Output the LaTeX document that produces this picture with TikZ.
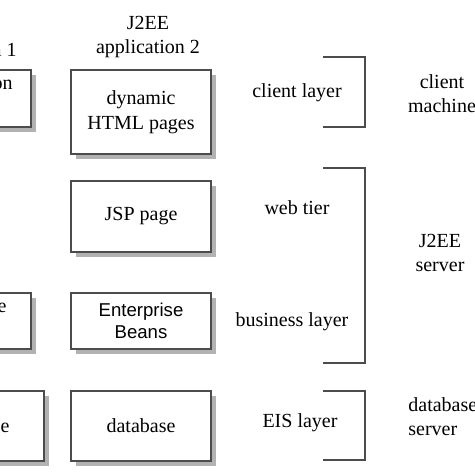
\documentclass[tikz,border=0pt]{standalone}
\usepackage{fontspec}
\setmainfont{Liberation Serif}
\newfontfamily\beanfont{Liberation Sans}
\usetikzlibrary{shadows}
\tikzset{
    tierbox/.style={draw=black!70, line width=0.8pt, fill=white, minimum width=70pt, align=center,
        font=\fontsize{10}{12.5}\selectfont,
        drop shadow={shadow xshift=2.5pt, shadow yshift=-2.5pt, fill=black!30, opacity=1}},
    tiertext/.style={align=center, inner sep=0pt, font=\fontsize{10}{12}\selectfont},
    bracketline/.style={draw=black!70, line width=1pt}
}

\begin{document}
\begin{tikzpicture}[x=0.5pt, y=-0.5pt]

            \useasboundingbox (0,0) rectangle (474,474);
            \clip (0,0) rectangle (474,474);

            % application 1 (cut off on the left)
            \node[tierbox, minimum width=63pt, minimum height=28.5pt] (A1) at (-32,98.5) {};
            \node[tierbox, minimum width=63pt, minimum height=28pt] (A3) at (-32,321) {};
            \node[tierbox, minimum width=70pt, minimum height=35pt] (A4) at (-26,426) {};
            \node[tiertext, anchor=east] (T1) at (17,50) {n 1};
            \node[tiertext, anchor=east] (A1t) at (13,85) {on};
            \node[tiertext, anchor=east] (A3t) at (7,308) {e};
            \node[tiertext, anchor=east] (A4t) at (10,428) {e};

            % application 2
            \node[tiertext] (T2) at (148,37) {J2EE\\application 2};
            \node[tierbox, minimum height=42pt] (B1) at (141,112) {dynamic\\HTML pages};
            \node[tierbox, minimum height=35.5pt] (B2) at (141,216.5) {JSP page};
            \node[tierbox, minimum height=28pt, font=\beanfont\fontsize{9.3}{11}\selectfont] (B3) at (141,321) {Enterprise\\Beans};
            \node[tierbox, minimum height=35pt] (B4) at (141,426) {database};

            % layers
            \node[tiertext] (L1) at (297,93) {client layer};
            \node[tiertext] (L2) at (297,208) {web tier};
            \node[tiertext] (L3) at (292,322) {business layer};
            \node[tiertext] (L4) at (300,423) {EIS layer};

            \coordinate (c1) at (323,57);  \coordinate (c2) at (365,57);
            \coordinate (c3) at (365,127); \coordinate (c4) at (323,127);
            \coordinate (w1) at (323,168); \coordinate (w2) at (365,168);
            \coordinate (w3) at (365,363); \coordinate (w4) at (323,363);
            \coordinate (e1) at (323,391); \coordinate (e2) at (365,391);
            \coordinate (e3) at (365,460); \coordinate (e4) at (323,460);

            \draw[bracketline] (c1) -- (c2) -- (c3) -- (c4);
            \draw[bracketline] (w1) -- (w2) -- (w3) -- (w4);
            \draw[bracketline] (e1) -- (e2) -- (e3) -- (e4);

            % machines
            \node[tiertext] (M1) at (442,94) {client\\machine};
            \node[tiertext] (M2) at (440,253) {J2EE\\server};
            \node[tiertext, align=left, anchor=west] (M3) at (408,417) {database\\server};

        \end{tikzpicture}
\end{document}
